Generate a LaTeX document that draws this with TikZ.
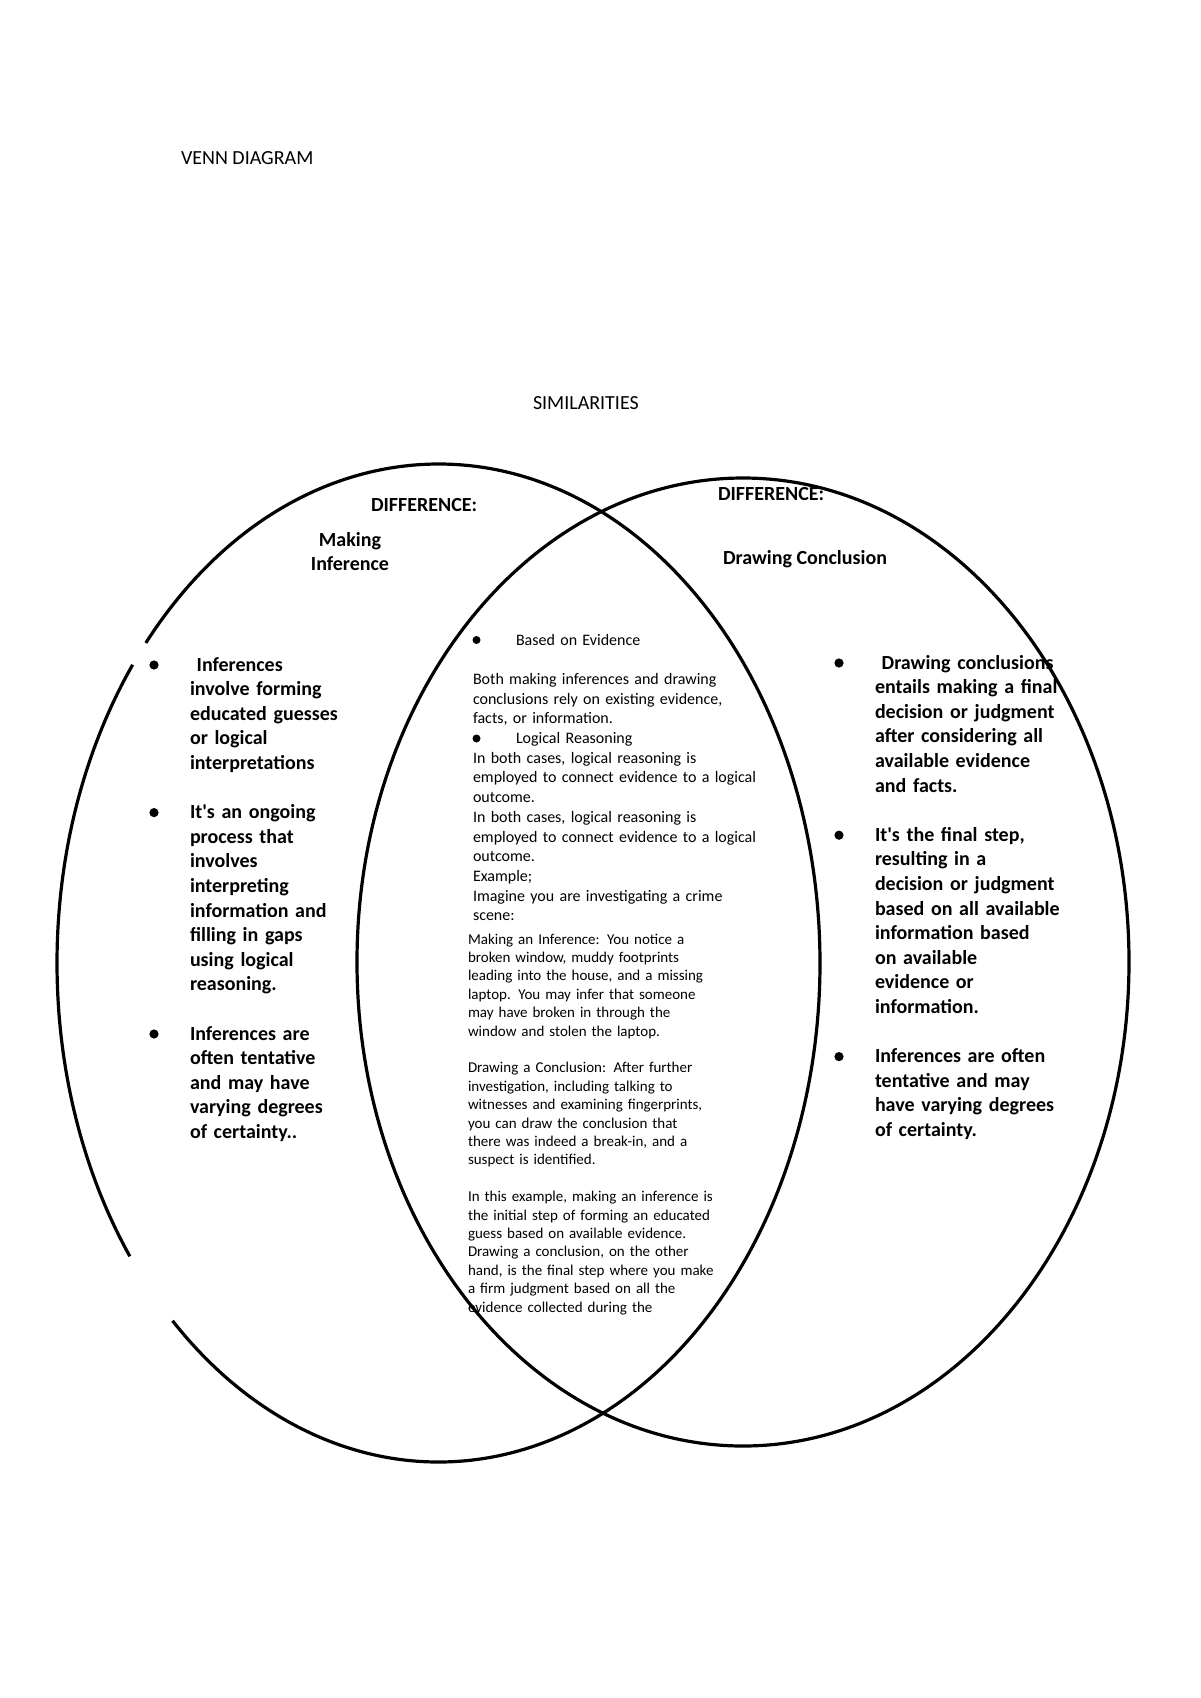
\documentclass[tikz,border=0pt]{standalone}
\usepackage{fontspec}
\setmainfont{Carlito}
\usetikzlibrary{positioning}
\hyphenpenalty=10000
\exhyphenpenalty=10000

\begin{document}
\begin{tikzpicture}[x=0.5pt, y=-0.5pt,
    every node/.style={inner sep=0pt, outer sep=0pt},
    big/.style={font=\fontsize{10}{12.3}\selectfont, anchor=base west},
    bigb/.style={font=\bfseries\fontsize{10}{12.3}\selectfont, anchor=base west},
    para/.style={bigb, text width=130pt, align=left},
    note/.style={font=\fontsize{8}{9.85}\selectfont, text width=180pt, align=left, anchor=base west},
    small/.style={font=\fontsize{7.5}{9.2}\selectfont, text width=180pt, align=left, anchor=base west},
    dot/.style={circle, fill=black, inner sep=0pt, minimum size=4.6pt},
    sdot/.style={circle, fill=black, inner sep=0pt, minimum size=4pt},
    venn/.style={line width=1.6pt}]
  \path[use as bounding box, fill=white] (0,0) rectangle (1200,1698);

  % titles
  \node[big] (title) at (181,164) {VENN DIAGRAM};
  \node[big] (simil) at (533,409) {SIMILARITIES};

  % left set
  \node[bigb] (ldiff) at (371,511) {DIFFERENCE:};
  \node[bigb, text width=60pt, align=center, anchor=base] (lname) at (350,546) {Making\\Inference};
  \node[para] (lp1) at (190,671) {\ Inferences\\involve forming\\educated guesses\\or logical\\interpretations};
  \node[para] (lp2) at (190,818.6) {It\textquotesingle s an ongoing\\process that\\involves\\interpreting\\information and\\filling in gaps\\using logical\\reasoning.};
  \node[para] (lp3) at (190,1040) {Inferences are\\often tentative\\and may have\\varying degrees\\of certainty..};
  \node[dot] (lb1) at ([shift={(-36,-6)}]lp1.base west) {};
  \node[dot] (lb2) at ([shift={(-36,-6)}]lp2.base west) {};
  \node[dot] (lb3) at ([shift={(-36,-6)}]lp3.base west) {};

  % right set
  \node[bigb] (rdiff) at (718,500) {DIFFERENCE:};
  \node[bigb] (rname) at (723,564) {Drawing Conclusion};
  \node[para] (rp1) at (875,669) {\ Drawing conclusions\\entails making a final\\decision or judgment\\after considering all\\available evidence\\and facts.};
  \node[para] (rp2) at (875,841.2) {It\textquotesingle s the final step,\\resulting in a\\decision or judgment\\based on all available\\information based\\on available\\evidence or\\information.};
  \node[para] (rp3) at (875,1062.6) {Inferences are often\\tentative and may\\have varying degrees\\of certainty.};
  \node[dot] (rb1) at ([shift={(-36,-6)}]rp1.base west) {};
  \node[dot] (rb2) at ([shift={(-36,-6)}]rp2.base west) {};
  \node[dot] (rb3) at ([shift={(-36,-6)}]rp3.base west) {};

  % similarities
  \node[note] (both) at (473,645) {\hspace{21.5pt}Based on Evidence\\[9.85pt]
    Both making inferences and drawing\\conclusions rely on existing evidence,\\facts, or information.\\
    \hspace{21.5pt}Logical Reasoning\\
    In both cases, logical reasoning is\\employed to connect evidence to a logical\\outcome.\\
    In both cases, logical reasoning is\\employed to connect evidence to a logical\\outcome.\\
    Example;\\Imagine you are investigating a crime\\scene:};
  \node[sdot] (mb1) at ([shift={(3.5,-5)}]both.base west) {};
  \node[sdot] (mb2) at ([shift={(3.5,93.5)}]both.base west) {};
  \node[small] (case) at (468,944) {Making an Inference: You notice a\\broken window, muddy footprints\\leading into the house, and a missing\\laptop. You may infer that someone\\may have broken in through the\\window and stolen the laptop.\\[9.2pt]
    Drawing a Conclusion: After further\\investigation, including talking to\\witnesses and examining fingerprints,\\you can draw the conclusion that\\there was indeed a break-in, and a\\suspect is identified.\\[9.2pt]
    In this example, making an inference is\\the initial step of forming an educated\\guess based on available evidence.\\Drawing a conclusion, on the other\\hand, is the final step where you make\\a firm judgment based on all the\\evidence collected during the};

  % the two sets
  \coordinate (lc) at (438.5,963);
  \coordinate (rc) at (743,962);
  \draw[venn] (rc) ellipse [x radius=386, y radius=484];
  \draw[venn] ([shift={(144:381.5 and 499)}]lc) arc[start angle=144, end angle=216.7, x radius=381.5, y radius=499];
  \draw[venn] ([shift={(219.9:381.5 and 499)}]lc) arc[start angle=219.9, end angle=494.2, x radius=381.5, y radius=499];
\end{tikzpicture}
\end{document}
